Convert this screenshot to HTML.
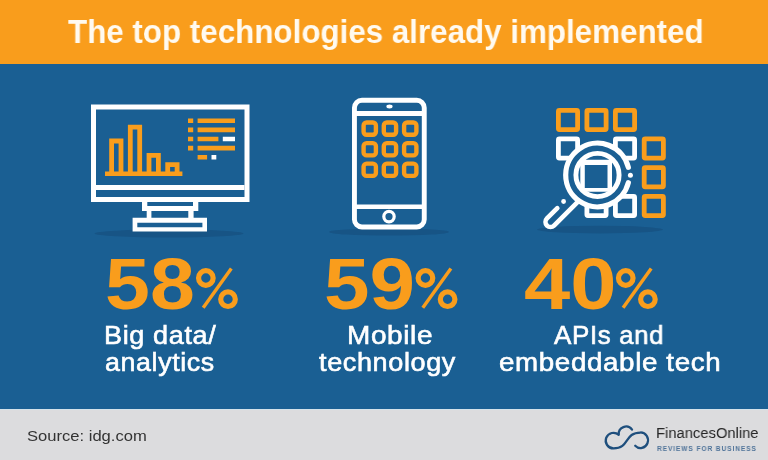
<!DOCTYPE html>
<html><head><meta charset="utf-8"><title>The top technologies already implemented</title>
<style>
html,body{margin:0;padding:0}
body{width:768px;height:460px;position:relative;overflow:hidden;background:#1a5f93;font-family:"Liberation Sans",sans-serif}
.hdr{position:absolute;left:0;top:0;width:768px;height:64px;background:#f99d1c}
.ftr{position:absolute;left:0;top:409px;width:768px;height:51px;background:#dcdcde}
.t{position:absolute;white-space:nowrap;transform-origin:0 0;will-change:transform}
.pc{font-weight:normal;font-size:0.78em}
svg{position:absolute;left:0;top:0}
</style></head><body>
<div class="hdr"></div>
<div class="ftr"></div><div style="position:absolute;left:0;top:409px;width:768px;height:1px;background:#d4e2ea"></div>
<svg width="768" height="460" viewBox="0 0 768 460">
<ellipse cx="169" cy="233.5" rx="74.5" ry="4" fill="#175485"/>
<ellipse cx="389" cy="232" rx="60" ry="3.6" fill="#175485"/>
<ellipse cx="600" cy="229.6" rx="63" ry="3.8" fill="#175485"/>
<path d="M91.00 104.50H249.50V202.00H91.00ZM96.00 109.50H244.50V197.00H96.00Z" fill="#ffffff" fill-rule="evenodd"/>
<path d="M96.00 185.00H244.50V190.00H96.00ZM142.00 202.00H147.30V211.00H142.00ZM193.00 202.00H198.30V211.00H193.00ZM142.00 206.00H198.30V211.00H142.00ZM146.70 211.00H151.40V218.00H146.70ZM188.30 211.00H193.60V218.00H188.30Z" fill="#ffffff" />
<path d="M132.60 217.80H207.00V231.60H132.60ZM137.30 222.80H202.40V227.30H137.30Z" fill="#ffffff" fill-rule="evenodd"/>
<path d="M105.00 171.50H182.40V176.00H105.00ZM109.20 138.60H114.00V171.50H109.20ZM118.60 138.60H123.40V171.50H118.60ZM109.20 138.60H123.40V143.40H109.20ZM127.90 124.80H132.70V171.50H127.90ZM137.30 124.80H142.10V171.50H137.30ZM127.90 124.80H142.10V129.60H127.90ZM146.60 153.00H151.40V171.50H146.60ZM156.00 153.00H160.80V171.50H156.00ZM146.60 153.00H160.80V157.80H146.60ZM165.30 162.30H170.10V171.50H165.30ZM174.70 162.30H179.50V171.50H174.70ZM165.30 162.30H179.50V167.10H165.30ZM188.00 118.50H193.20V123.10H188.00ZM188.00 127.60H193.20V132.20H188.00ZM188.00 136.70H193.20V141.30H188.00ZM188.00 145.80H193.20V150.40H188.00ZM197.60 118.50H235.00V123.10H197.60ZM197.60 127.60H235.00V132.20H197.60ZM197.60 136.70H218.40V141.30H197.60ZM197.60 145.80H235.00V150.40H197.60ZM197.60 155.00H207.10V159.60H197.60Z" fill="#f99d1c" />
<path d="M222.80 136.70H235.00V141.30H222.80ZM211.50 155.00H216.30V159.60H211.50Z" fill="#ffffff" />
<rect x="354.45" y="100.25" width="69.8" height="126.8" rx="7.5" fill="none" stroke="#ffffff" stroke-width="4.9"/>
<path d="M353.00 111.00H426.00V116.00H353.00ZM353.00 204.50H426.00V209.00H353.00Z" fill="#ffffff" />
<ellipse cx="389.5" cy="106.5" rx="3.1" ry="1.9" fill="#ffffff"/>
<circle cx="389" cy="216.6" r="5.2" fill="none" stroke="#ffffff" stroke-width="3.2"/>
<rect x="363.60" y="122.50" width="12.30" height="12.30" rx="3" fill="none" stroke="#f99d1c" stroke-width="4.4"/>
<rect x="363.60" y="143.10" width="12.30" height="12.30" rx="3" fill="none" stroke="#f99d1c" stroke-width="4.4"/>
<rect x="363.60" y="163.60" width="12.30" height="12.30" rx="3" fill="none" stroke="#f99d1c" stroke-width="4.4"/>
<rect x="383.80" y="122.50" width="12.30" height="12.30" rx="3" fill="none" stroke="#f99d1c" stroke-width="4.4"/>
<rect x="383.80" y="143.10" width="12.30" height="12.30" rx="3" fill="none" stroke="#f99d1c" stroke-width="4.4"/>
<rect x="383.80" y="163.60" width="12.30" height="12.30" rx="3" fill="none" stroke="#f99d1c" stroke-width="4.4"/>
<rect x="404.10" y="122.50" width="12.30" height="12.30" rx="3" fill="none" stroke="#f99d1c" stroke-width="4.4"/>
<rect x="404.10" y="143.10" width="12.30" height="12.30" rx="3" fill="none" stroke="#f99d1c" stroke-width="4.4"/>
<rect x="404.10" y="163.60" width="12.30" height="12.30" rx="3" fill="none" stroke="#f99d1c" stroke-width="4.4"/>
<rect x="558.40" y="110.40" width="19.20" height="19.20" rx="1" fill="none" stroke="#f99d1c" stroke-width="4.8"/>
<rect x="586.90" y="110.40" width="19.20" height="19.20" rx="1" fill="none" stroke="#f99d1c" stroke-width="4.8"/>
<rect x="615.40" y="110.40" width="19.20" height="19.20" rx="1" fill="none" stroke="#f99d1c" stroke-width="4.8"/>
<rect x="644.20" y="138.90" width="19.20" height="19.20" rx="1" fill="none" stroke="#f99d1c" stroke-width="4.8"/>
<rect x="644.20" y="167.60" width="19.20" height="19.20" rx="1" fill="none" stroke="#f99d1c" stroke-width="4.8"/>
<rect x="644.20" y="196.40" width="19.20" height="19.20" rx="1" fill="none" stroke="#f99d1c" stroke-width="4.8"/>
<rect x="558.40" y="138.90" width="19.20" height="19.20" rx="1" fill="none" stroke="#ffffff" stroke-width="4.8"/>
<rect x="615.40" y="138.90" width="19.20" height="19.20" rx="1" fill="none" stroke="#ffffff" stroke-width="4.8"/>
<rect x="615.40" y="196.40" width="19.20" height="19.20" rx="1" fill="none" stroke="#ffffff" stroke-width="4.8"/>
<rect x="586.90" y="196.40" width="19.20" height="19.20" rx="1" fill="none" stroke="#ffffff" stroke-width="4.8"/>
<circle cx="597.5" cy="175" r="31" fill="#1a5f93"/>
<path d="M628.36 182.69A31.8 31.8 0 1 1 628.36 167.31" fill="none" stroke="#ffffff" stroke-width="5.2" stroke-linecap="round"/>
<circle cx="630.4" cy="175.2" r="2.5" fill="#ffffff"/>
<circle cx="597.5" cy="175" r="21.6" fill="none" stroke="#ffffff" stroke-width="4.9"/>
<clipPath id="lc"><circle cx="597.5" cy="175" r="22"/></clipPath>
<path d="M580.30 159.80H612.00V191.80H580.30ZM584.80 165.10H607.50V188.00H584.80Z" fill="#ffffff" fill-rule="evenodd" clip-path="url(#lc)"/>
<path d="M557.3 208.1 L546.96 218.46 A5 5 0 0 0 554.04 225.54 L578.5 201.1" fill="none" stroke="#ffffff" stroke-width="4.6" stroke-linecap="round" stroke-linejoin="round"/>
<circle cx="563.6" cy="201.5" r="2.4" fill="#ffffff"/>
<path d="M635.2 445.8A7.5 7.8 0 1 0 640.5 432.5C624 432.5 630 448.4 613.5 448.4A7.8 7.8 0 1 1 618.77 434.84A7.4 7.4 0 0 1 632.06 429.56" fill="none" stroke="#1f4f7d" stroke-width="2.25" stroke-linecap="round" stroke-linejoin="round"/>
<circle cx="205.85" cy="278" r="7.3" fill="none" stroke="#f99d1c" stroke-width="5.2"/>
<circle cx="228.00" cy="299.2" r="7.3" fill="none" stroke="#f99d1c" stroke-width="5.2"/>
<path d="M203.20 307.8L231.30 268.4" stroke="#f99d1c" stroke-width="3.4"/>
<circle cx="425.45" cy="278" r="7.3" fill="none" stroke="#f99d1c" stroke-width="5.2"/>
<circle cx="447.60" cy="299.2" r="7.3" fill="none" stroke="#f99d1c" stroke-width="5.2"/>
<path d="M422.80 307.8L450.90 268.4" stroke="#f99d1c" stroke-width="3.4"/>
<circle cx="625.75" cy="278" r="7.3" fill="none" stroke="#f99d1c" stroke-width="5.2"/>
<circle cx="647.90" cy="299.2" r="7.3" fill="none" stroke="#f99d1c" stroke-width="5.2"/>
<path d="M623.10 307.8L651.20 268.4" stroke="#f99d1c" stroke-width="3.4"/>
</svg>
<div class="t" style="left:68.1px;top:14.86px;font-size:33px;line-height:33px;color:#fffaf0;font-weight:bold;transform:scaleX(0.9496);">The top technologies already implemented</div><div class="t" style="left:104.56px;top:248.04px;font-size:72px;line-height:72px;color:#f99d1c;font-weight:bold;transform:scaleX(1.1211);">58</div><div class="t" style="left:324.03px;top:248.04px;font-size:72px;line-height:72px;color:#f99d1c;font-weight:bold;transform:scaleX(1.1368);">59</div><div class="t" style="left:523.94px;top:248.04px;font-size:72px;line-height:72px;color:#f99d1c;font-weight:bold;transform:scaleX(1.1553);">40</div><div class="t" style="left:104.12px;top:321.89px;font-size:26px;line-height:26px;color:#ffffff;font-weight:normal;transform:scaleX(1.0396);-webkit-text-stroke:0.6px #fff;letter-spacing:0.6px;">Big data/</div><div class="t" style="left:105.47px;top:348.69px;font-size:26px;line-height:26px;color:#ffffff;font-weight:normal;transform:scaleX(1.0305);-webkit-text-stroke:0.6px #fff;letter-spacing:0.6px;">analytics</div><div class="t" style="left:347.25px;top:321.89px;font-size:26px;line-height:26px;color:#ffffff;font-weight:normal;transform:scaleX(1.074);-webkit-text-stroke:0.6px #fff;letter-spacing:0.6px;">Mobile</div><div class="t" style="left:319.1px;top:348.69px;font-size:26px;line-height:26px;color:#ffffff;font-weight:normal;transform:scaleX(1.0394);-webkit-text-stroke:0.6px #fff;letter-spacing:0.6px;">technology</div><div class="t" style="left:554.0px;top:321.89px;font-size:26px;line-height:26px;color:#ffffff;font-weight:normal;transform:scaleX(0.9982);-webkit-text-stroke:0.6px #fff;letter-spacing:0.6px;">APIs and</div><div class="t" style="left:498.93px;top:348.69px;font-size:26px;line-height:26px;color:#ffffff;font-weight:normal;transform:scaleX(1.0665);-webkit-text-stroke:0.6px #fff;letter-spacing:0.6px;">embeddable tech</div><div class="t" style="left:27.13px;top:427.68px;font-size:15.5px;line-height:15.5px;color:#333333;font-weight:normal;transform:scaleX(1.0691);">Source: idg.com</div><div class="t" style="left:656.45px;top:425.28px;font-size:15.5px;line-height:15.5px;color:#262626;font-weight:normal;transform:scaleX(0.9519);">FinancesOnline</div><div class="t" style="left:656.9px;top:444.6px;font-size:7.2px;line-height:7.2px;color:#4f7399;font-weight:bold;transform:scaleX(0.9148);letter-spacing:1px;">REVIEWS FOR BUSINESS</div>
</body></html>
